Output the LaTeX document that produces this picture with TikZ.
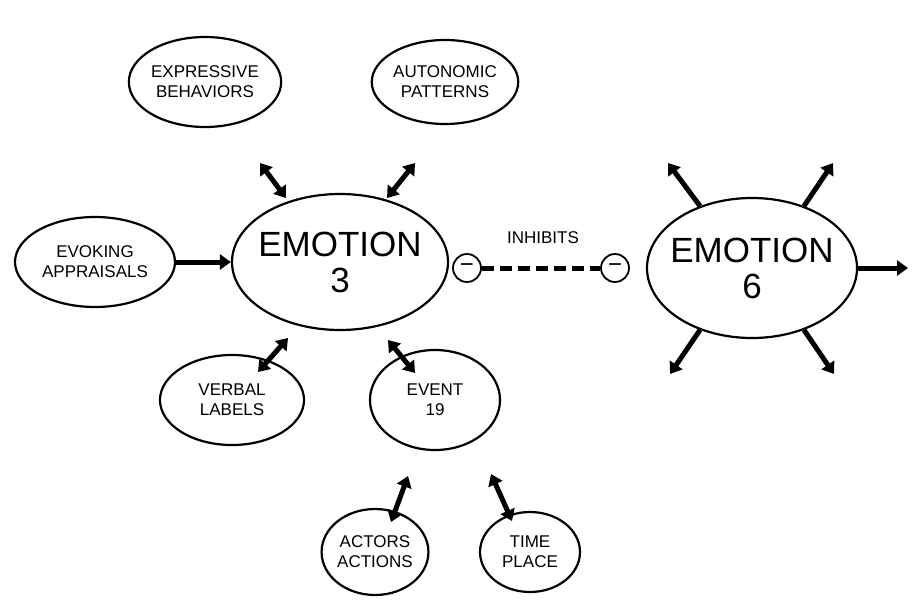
\documentclass[tikz,border=0pt]{standalone}
\usepackage{fontspec}
\setmainfont{Liberation Sans}
\usetikzlibrary{shapes.geometric,arrows.meta}
\begin{document}
\begin{tikzpicture}[x=1pt,y=-1pt,
  ov/.style={draw,ellipse,line width=2.2pt,inner sep=0pt,align=center,font=\fontsize{17}{20}\selectfont},
  big/.style={ov,inner sep=-9pt,font=\fontsize{35}{36}\selectfont},
  mn/.style={draw,circle,line width=1.8pt,minimum size=28pt,inner sep=0pt},
  da/.style={line width=5pt,{Triangle[length=11pt,width=15pt]}-{Triangle[length=11pt,width=15pt]}},
  sa/.style={line width=5pt,-{Triangle[length=11pt,width=15pt]}}]
\useasboundingbox (0,0) rectangle (915,611);
\node[ov,minimum width=146pt,minimum height=90pt] (exp) at (205,82) {EXPRESSIVE\\BEHAVIORS};
\node[ov,minimum width=126pt,minimum height=84pt] (aut) at (445,82) {AUTONOMIC\\PATTERNS};
\node[ov,minimum width=160pt,minimum height=90pt] (evo) at (95,262) {EVOKING\\APPRAISALS};
\node[big,minimum width=216pt,minimum height=136pt] (e3) at (340,262) {EMOTION\\3};
\node[mn] (m1) at (467,268) {\fontsize{24}{24}\selectfont −};
\node[mn] (m2) at (615,268) {\fontsize{24}{24}\selectfont −};
\node[font=\fontsize{17}{20}\selectfont] (inh) at (543,238) {INHIBITS};
\node[big,minimum width=210pt,minimum height=140pt] (e6) at (752,268) {EMOTION\\6};
\node[ov,minimum width=144pt,minimum height=90pt] (ver) at (232,400) {VERBAL\\LABELS};
\node[ov,minimum width=130pt,minimum height=100pt] (ev) at (435,400) {EVENT\\19};
\node[ov,minimum width=106pt,minimum height=86pt] (act) at (375,552) {ACTORS\\ACTIONS};
\node[ov,minimum width=100pt,minimum height=80pt] (tim) at (530,552) {TIME\\PLACE};
\draw[line width=5pt,dash pattern=on 12pt off 6pt] (m1) -- (m2);
\coordinate (a1) at (260,163); \coordinate (b1) at (286,198);
\coordinate (a2) at (415,163); \coordinate (b2) at (387,198);
\coordinate (a3) at (288,338); \coordinate (b3) at (258,372);
\coordinate (a4) at (388,340); \coordinate (b4) at (415,373);
\coordinate (a5) at (408,476); \coordinate (b5) at (391,522);
\coordinate (a6) at (491,474); \coordinate (b6) at (512,521);
\draw[da] (a1) -- (b1);
\draw[da] (a2) -- (b2);
\draw[da] (a3) -- (b3);
\draw[da] (a4) -- (b4);
\draw[da] (a5) -- (b5);
\draw[da] (a6) -- (b6);
\draw[sa] (evo) -- (e3);
\coordinate (o1) at (668,163); \coordinate (o2) at (833,163);
\coordinate (o3) at (670,374); \coordinate (o4) at (834,374);
\coordinate (o5) at (908,268);
\draw[sa] (e6.130) -- (o1);
\draw[sa] (e6.50) -- (o2);
\draw[sa] (e6.230) -- (o3);
\draw[sa] (e6.310) -- (o4);
\draw[sa] (e6.east) -- (o5);
\end{tikzpicture}
\end{document}
